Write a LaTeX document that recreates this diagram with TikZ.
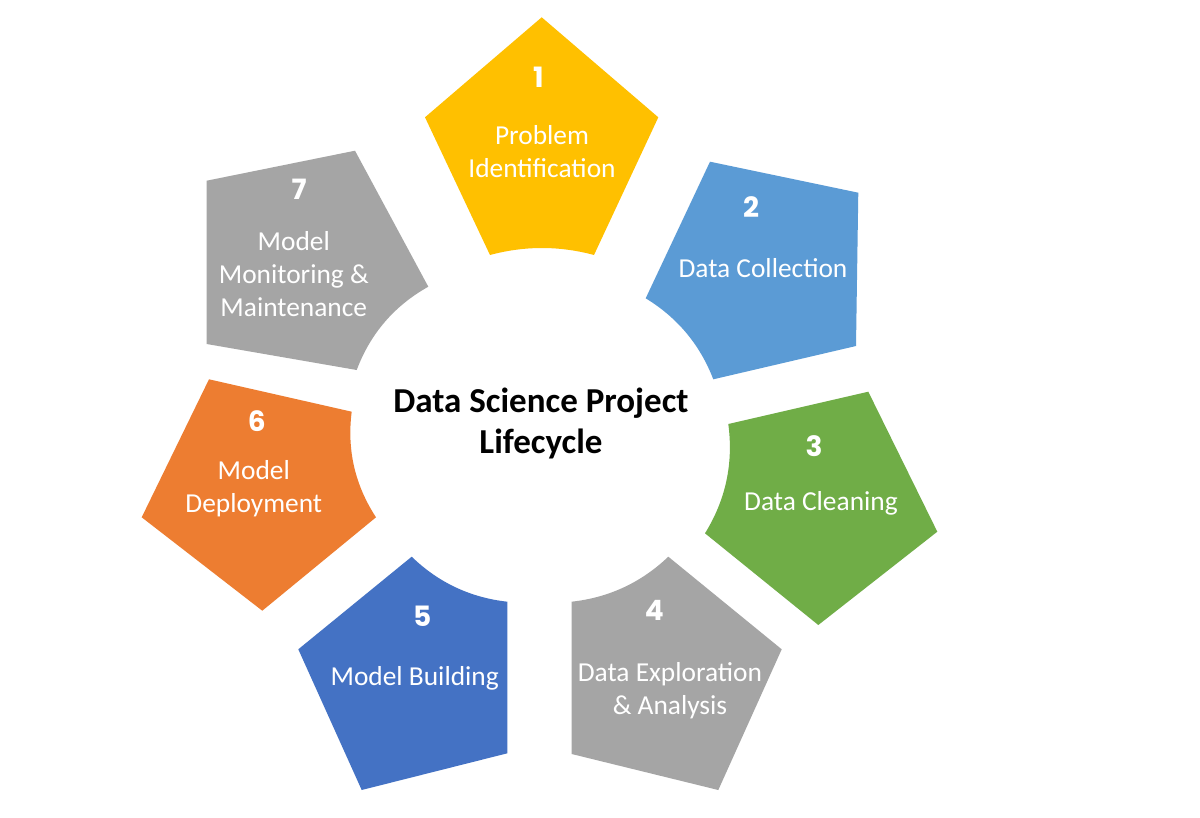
\documentclass[tikz,border=0pt]{standalone}
\usepackage{fontspec}
\usetikzlibrary{calc}
\setmainfont{Carlito}
\newfontfamily\numfont{Poppins}
\definecolor{cyellow}{HTML}{FFC000}
\definecolor{cblue}{HTML}{5B9BD5}
\definecolor{cgreen}{HTML}{70AD47}
\definecolor{cgrey}{HTML}{A5A5A5}
\definecolor{cdblue}{HTML}{4472C4}
\definecolor{corange}{HTML}{ED7D31}
\tikzset{
  numlabel/.style={anchor=base, text=white, inner sep=0pt, font=\numfont\bfseries\fontsize{28}{33}\selectfont},
  steplabel/.style={anchor=base, text=white, inner sep=0pt, align=center, font=\fontsize{27.4}{33}\selectfont},
  titlelabel/.style={anchor=base, text=black, inner sep=0pt, align=center, font=\bfseries\fontsize{35}{41}\selectfont},
}
% concave arc from #1 to #3 with quadratic control #2
\newcommand{\concarc}[3]{.. controls ($(#1)!0.6667!(#2)$) and ($(#3)!0.6667!(#2)$) .. (#3)}
\begin{document}
\begin{tikzpicture}[x=1pt,y=-1pt]
\useasboundingbox (0,0) rectangle (1200,817);
\fill[white] (0,0) rectangle (1200,817);
% 1
\fill[cyellow] (541.7,17.3) -- (658.3,117.3) -- (594,255) \concarc{594,255}{542,241}{490,255} -- (425,117.3) -- cycle;
% 2
\fill[cblue] (710,161.7) -- (858.3,192.7) -- (856,346) -- (713.3,379.3) \concarc{713.3,379.3}{693.3,327.3}{645.7,298.3} -- cycle;
% 3
\fill[cgreen] (728.3,424) -- (868.3,391.7) -- (937.3,531.7) -- (818.3,625) -- (705,533.3) \concarc{705,533.3}{736.2,482.8}{728.3,424} -- cycle;
% 4
\fill[cgrey] (668.3,556.7) -- (781.7,649.3) -- (718.3,790) -- (571.7,754) -- (571.7,601.7) \concarc{571.7,601.7}{627.6,595.5}{668.3,556.7} -- cycle;
% 5
\fill[cdblue] (411.7,556.7) \concarc{411.7,556.7}{451.8,595.5}{507.3,601.7} -- (507.3,753.3) -- (361.7,790) -- (298.3,649.3) -- cycle;
% 6
\fill[corange] (209,379.3) -- (351.7,411.7) \concarc{351.7,411.7}{344.4,469}{376,517.3} -- (262.3,610.7) -- (141.7,517.3) -- cycle;
% 7
\fill[cgrey] (206.7,180.7) -- (355,150.7) -- (428.3,286.7) \concarc{428.3,286.7}{377.3,315.3}{356.7,370} -- (206.7,344) -- cycle;

\node[numlabel] (n1) at (538.5,87.3) {1};
\node[steplabel] (t1) at (542,177.3) {Problem\\Identification};
\node[numlabel] (n2) at (751,217.3) {2};
\node[steplabel] (t2) at (763,277.3) {Data Collection};
\node[numlabel] (n3) at (814,456.7) {3};
\node[steplabel] (t3) at (821,510.7) {Data Cleaning};
\node[numlabel] (n4) at (654.3,620) {4};
\node[steplabel] (t4) at (670,714) {Data Exploration\\\&~Analysis};
\node[numlabel] (n5) at (422.3,626) {5};
\node[steplabel] (t5) at (414.7,685) {Model Building};
\node[numlabel] (n6) at (256.7,431.7) {6};
\node[steplabel] (t6) at (253.8,512.7) {Model\\Deployment};
\node[numlabel] (n7) at (299,199.3) {7};
\node[steplabel] (t7) at (293.8,316) {Model\\Monitoring \&\\Maintenance};
\node[titlelabel] (title) at (541,453.3) {Data Science Project\\Lifecycle};
\end{tikzpicture}
\end{document}
